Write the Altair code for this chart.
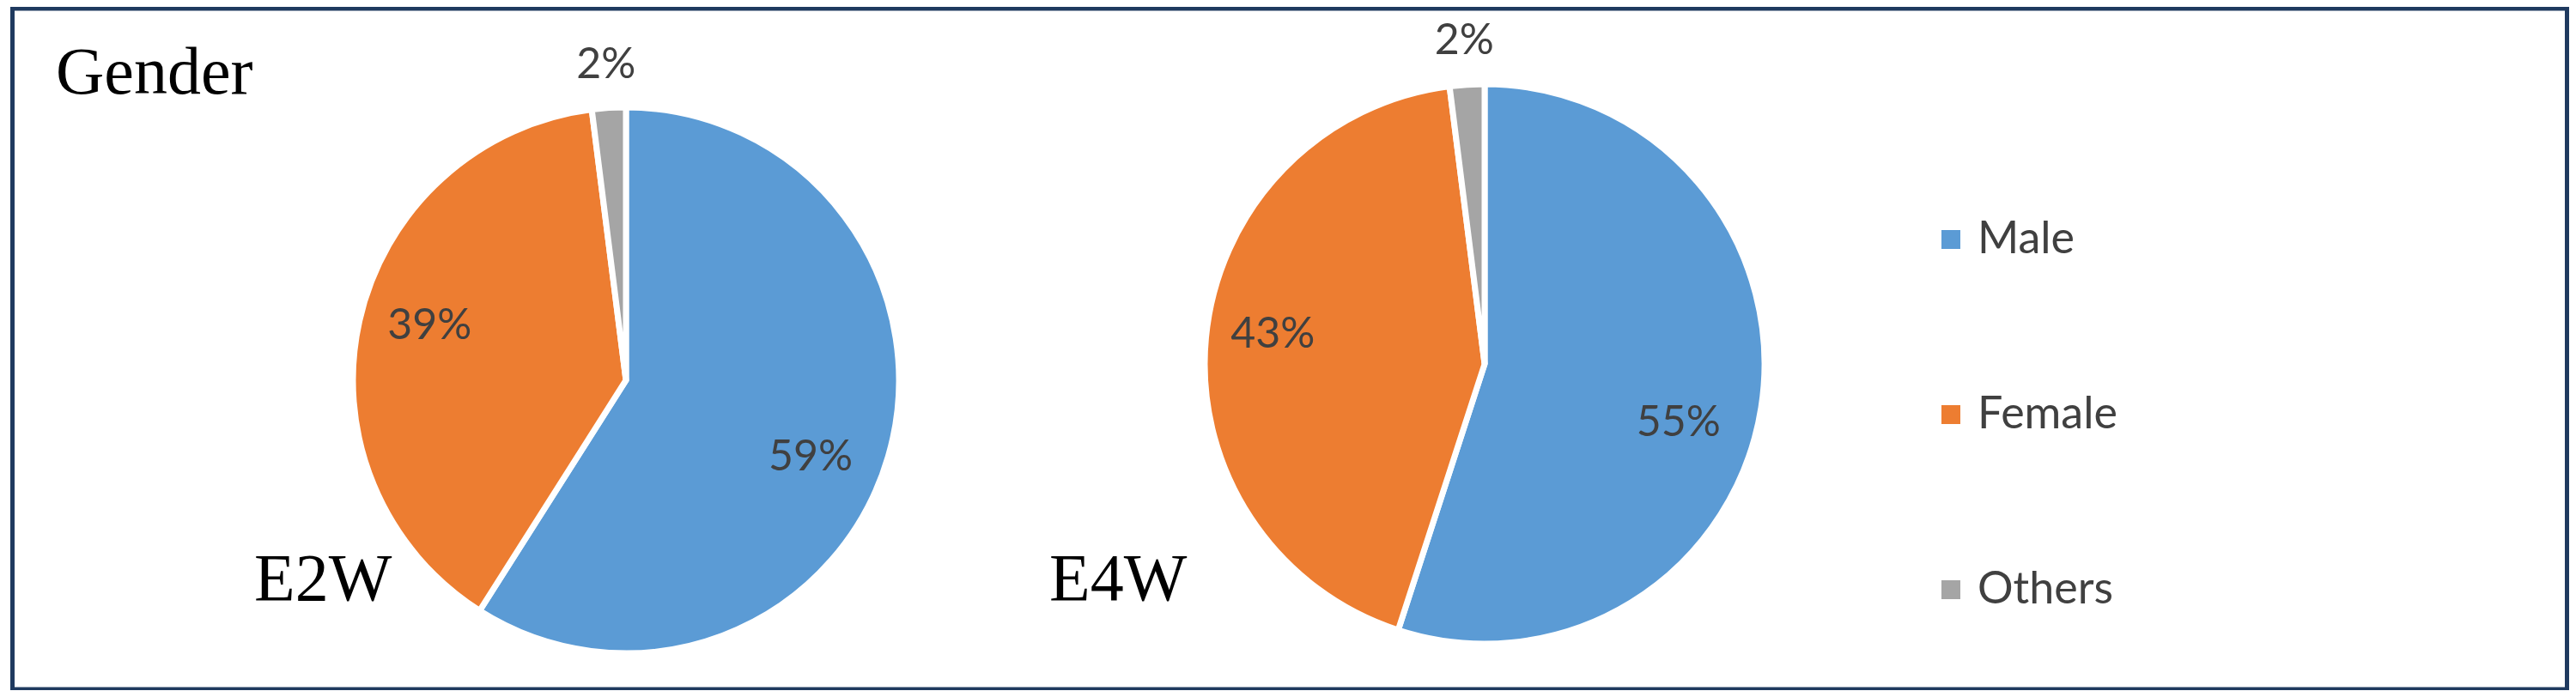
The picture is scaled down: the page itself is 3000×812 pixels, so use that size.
import altair as alt
import pandas as pd

categories = ["Male", "Female", "Others"]
e2w_values = [59, 39, 2]
e4w_values = [55, 43, 2]
panels = ["E2W", "E4W"]
colors = ["#5B9BD5", "#ED7D31", "#A5A5A5"]

rows = []
for panel, vals in zip(panels, [e2w_values, e4w_values]):
    for i, (c, v) in enumerate(zip(categories, vals)):
        rows.append({"panel": panel, "category": c, "value": v, "idx": i})
df = pd.DataFrame(rows)

base = alt.Chart(df)

color = alt.Color(
    "category:N",
    scale=alt.Scale(domain=categories, range=colors),
    sort=categories,
    legend=alt.Legend(
        orient="none", legendX=2238, legendY=245, title=None,
        symbolType="square", symbolSize=484, symbolStrokeWidth=0,
        labelFont="Lato", labelFontSize=52, labelColor="#404040",
        labelOffset=5, rowPadding=152, padding=0, labelLimit=0,
    ),
)

# pie center x, y, radius
pies = {"E2W": (721, 435, 318), "E4W": (1721, 416, 326)}
# label placement per category: (radius, theta offset in radians)
label_place = {
    "E2W": {"Male": (233, 0.113), "Female": (237, 0.047), "Others": (368, 0.0)},
    "E4W": {"Male": (236, 0.14), "Female": (249, 0.042), "Others": (377, 0.0)},
}

layers = []
border = alt.Chart(pd.DataFrame({"a": [0]})).mark_rect(
    fillOpacity=0, stroke="#1F3A5F", strokeWidth=5
).encode(x=alt.value(6.5), x2=alt.value(2981.5), y=alt.value(2), y2=alt.value(795))
layers.append(border)

for panel in panels:
    cx, cy, r = pies[panel]
    sub = base.transform_filter(alt.datum.panel == panel)
    arc = sub.mark_arc(radius=r, stroke="white", strokeWidth=7).encode(
        theta=alt.Theta("value:Q", stack=True),
        color=color,
        order=alt.Order("idx:Q"),
        x=alt.value(cx), y=alt.value(cy),
    )
    layers.append(arc)
    for cat in categories:
        rr, toff = label_place[panel][cat]
        txt = sub.transform_calculate(
            label=f"datum.category == '{cat}' ? datum.value + '%' : ''"
        ).mark_text(
            radius=rr, thetaOffset=toff, font="Lato", fontSize=50, color="#404040"
        ).encode(
            theta=alt.Theta("value:Q", stack=True),
            detail="category:N",
            order=alt.Order("idx:Q"),
            text="label:N",
            x=alt.value(cx), y=alt.value(cy),
        )
        layers.append(txt)

def serif_text(t, x, y):
    return alt.Chart(pd.DataFrame({"t": [t]})).mark_text(
        font="Liberation Serif", fontSize=78, color="black",
        align="left", baseline="alphabetic"
    ).encode(text="t:N", x=alt.value(x), y=alt.value(y))

layers += [serif_text("Gender", 57, 101), serif_text("E2W", 288, 691), serif_text("E4W", 1214, 691)]

chart = alt.layer(*layers).properties(
    width=2984, height=796,
    autosize=alt.AutoSizeParams(type="none"), padding=0,
).configure_view(stroke=None).resolve_scale(theta="shared")

chart.save("out.html", embed_options={"renderer": "svg", "actions": False})
